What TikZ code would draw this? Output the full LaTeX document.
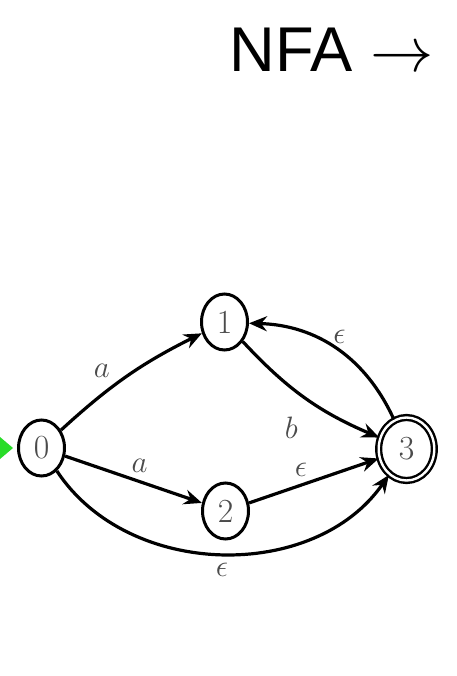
\documentclass[tikz,border=0pt]{standalone}
\usepackage{fix-cm}
\usepackage{fontspec}
\newfontfamily\titlefont{Liberation Sans}
\usetikzlibrary{shapes.geometric, arrows.meta, positioning}
\definecolor{mygray}{RGB}{75,75,75}
\definecolor{mygreen}{RGB}{40,220,40}
\tikzset{
  state/.style={ellipse, draw=black, line width=0.15cm,
    minimum width=2.3cm, minimum height=2.8cm, inner sep=0pt,
    text=mygray, font=\fontsize{48}{48}\selectfont},
  accept/.style={state, double, line width=0.12cm, double distance=0.12cm,
    minimum width=2.78cm, minimum height=3.15cm},
  edge/.style={-{Stealth[length=0.9cm, width=0.75cm, inset=0.3cm]},
    line width=0.16cm, color=black},
  elabel/.style={text=mygray, font=\fontsize{44}{44}\selectfont}
}
\begin{document}
\begin{tikzpicture}[x=0.05cm, y=-0.05cm]
  % ── Page ──────────────────────────────────────────────────────────
  \fill[white] (0,0) rectangle (455,676);

  % ── Title ─────────────────────────────────────────────────────────
  \node[anchor=base west, inner sep=0pt, font=\fontsize{90}{100}\selectfont]
    (title) at (228,72) {\titlefont NFA $\rightarrow$};

  % ── States ────────────────────────────────────────────────────────
  \node[state]  (q0) at (40,448)  {0};
  \node[state]  (q1) at (223,322) {1};
  \node[state]  (q2) at (224,511) {2};
  \node[accept] (q3) at (405,449) {3};
  % start marker
  \fill[mygreen] (q0.west) ++(-4,0) -- ++(-13,-11) -- ++(0,22) -- cycle;

  % ── Transitions ───────────────────────────────────────────────────
  \draw[edge] (q0) to[bend left=8]
    node[elabel, pos=0.3, yshift=1.2cm] {$a$} (q1);
  \draw[edge] (q1) to[bend right=12]
    node[elabel, xshift=-0.7cm, yshift=-1.5cm] {$b$} (q3);
  \draw[edge] (q3) to[bend right=32]
    node[elabel, xshift=0.15cm, yshift=0.6cm] {$\epsilon$} (q1);
  \draw[edge] (q0) --
    node[elabel, xshift=0.3cm, yshift=0.7cm] {$a$} (q2);
  \draw[edge] (q2) --
    node[elabel, pos=0.4, yshift=0.75cm] {$\epsilon$} (q3);
  \draw[edge] (q0) to[bend right=56]
    node[elabel, yshift=-0.8cm] {$\epsilon$} (q3);
\end{tikzpicture}
\end{document}
